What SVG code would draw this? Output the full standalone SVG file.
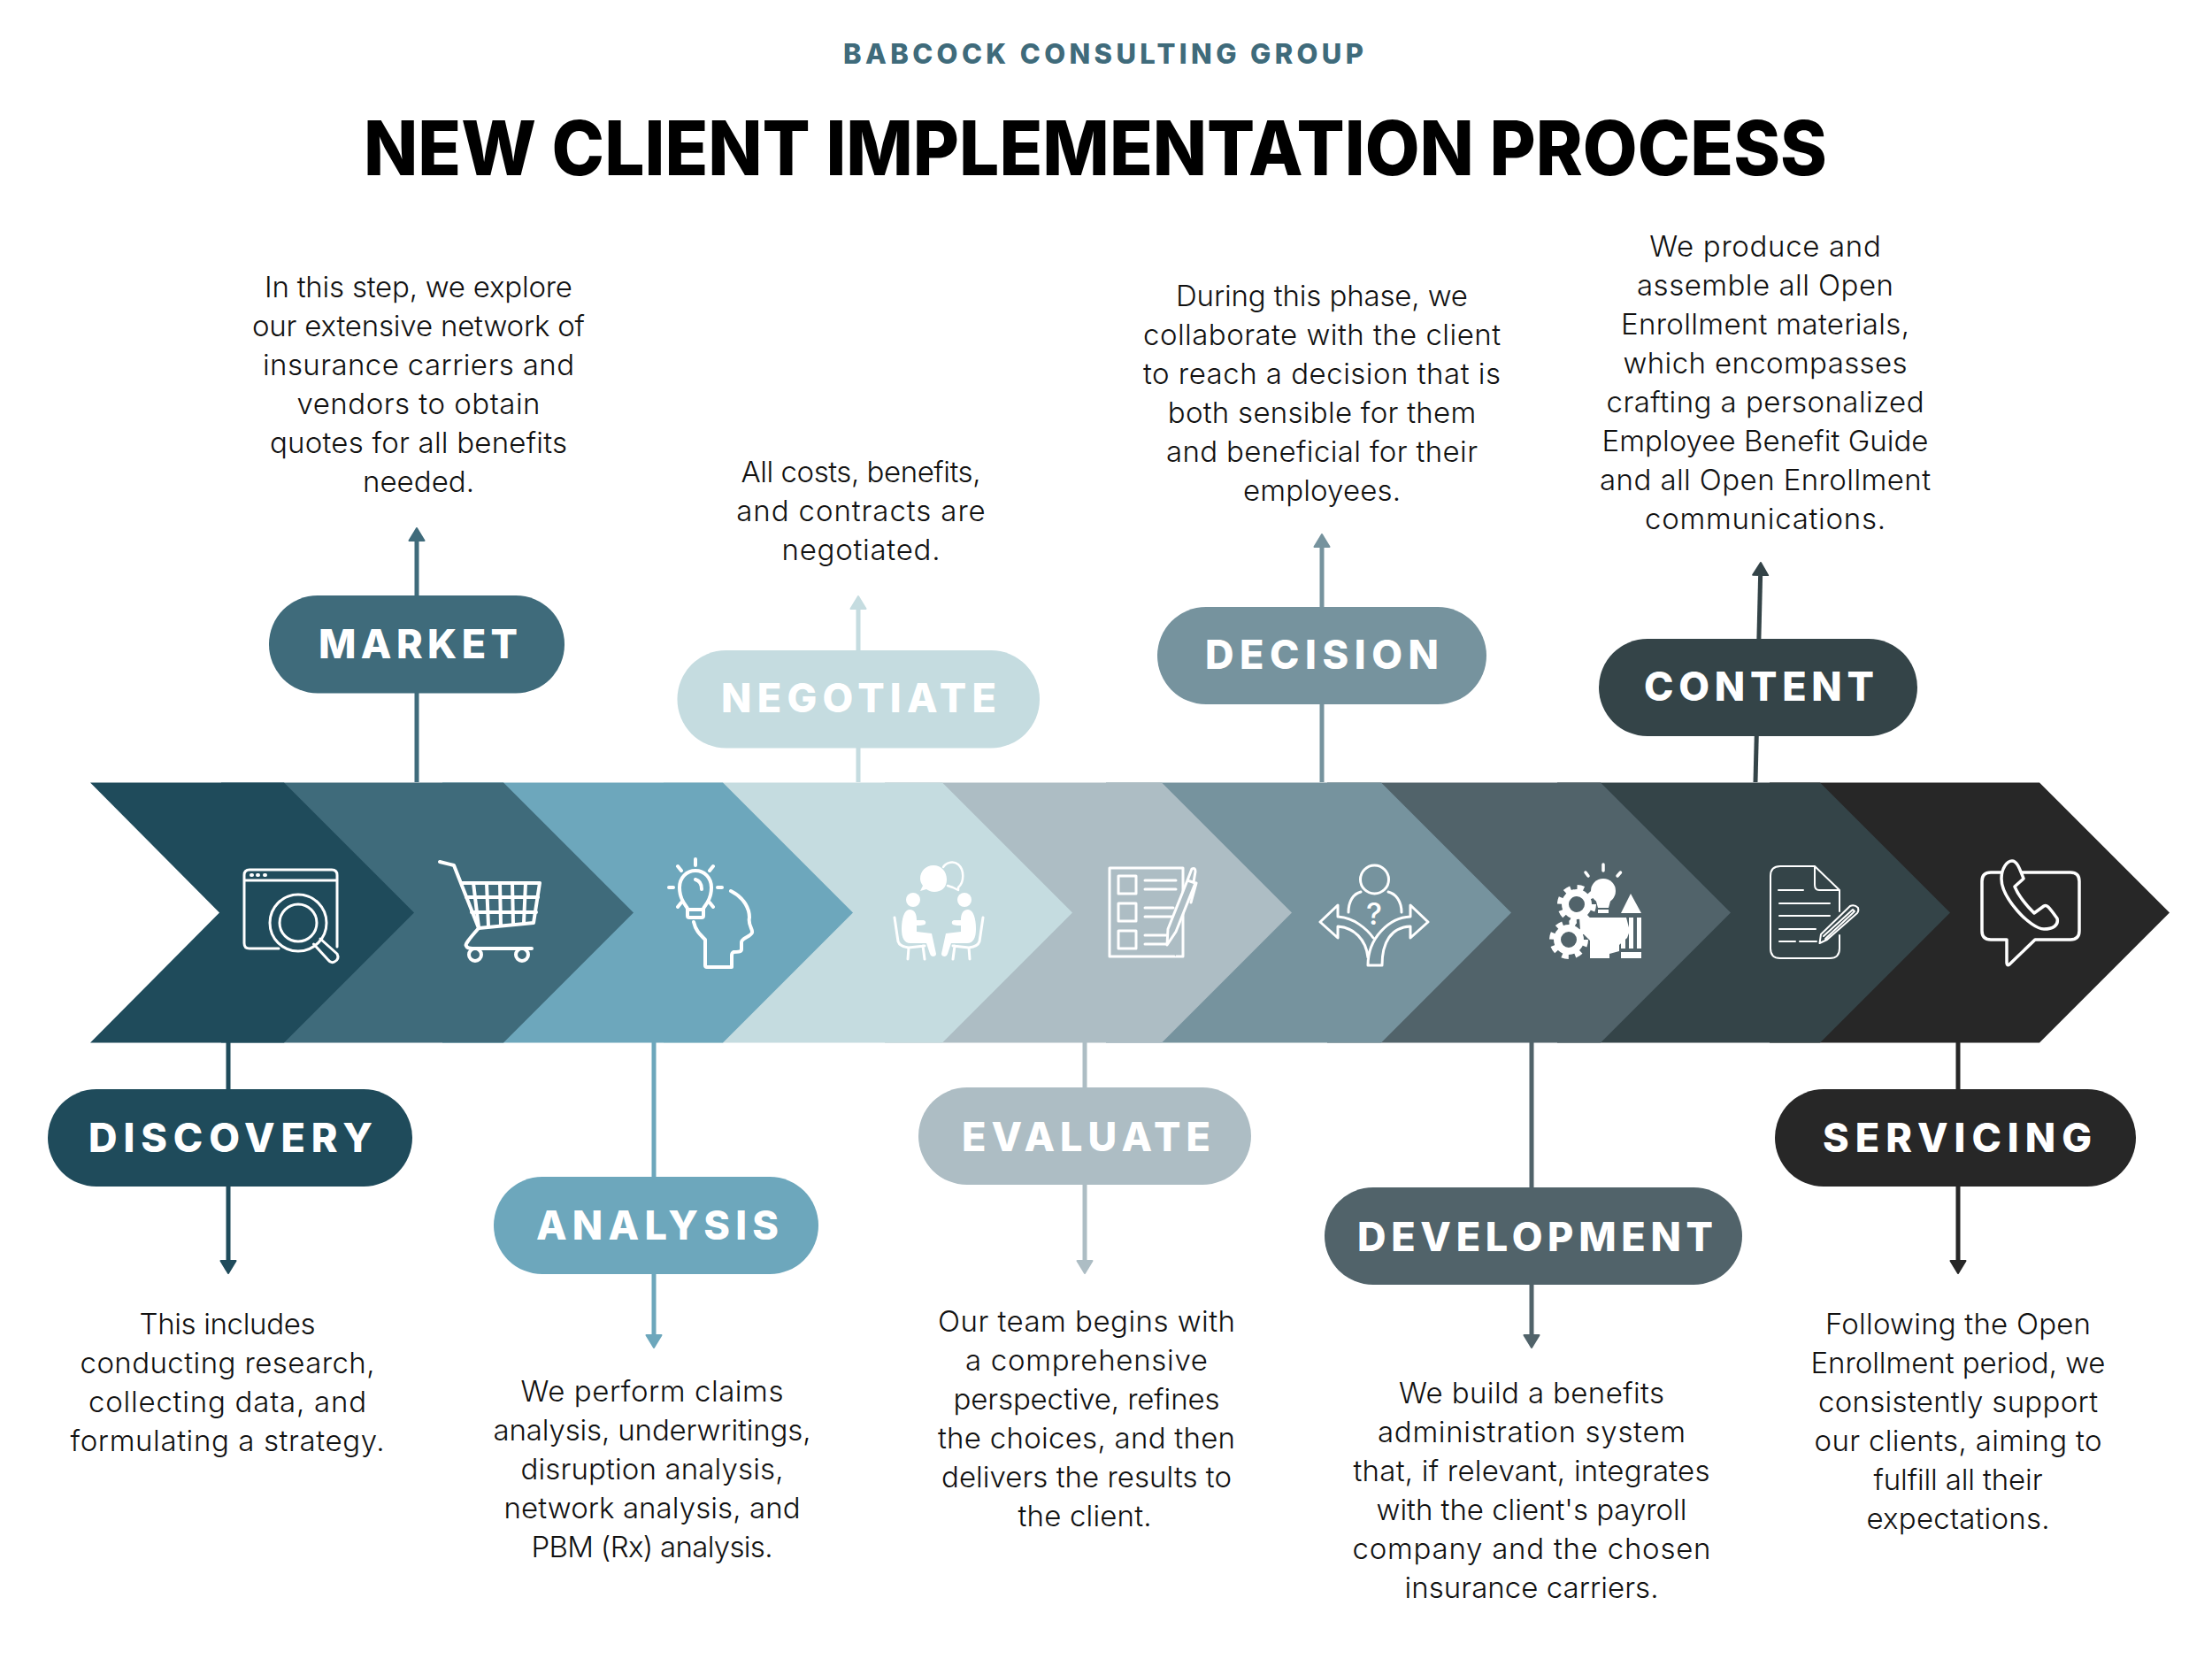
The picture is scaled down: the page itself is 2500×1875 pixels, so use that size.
<svg xmlns="http://www.w3.org/2000/svg" width="2500" height="1875" viewBox="0 0 2500 1875">
<style>
text{font-family:"Inter","Liberation Sans",sans-serif}
.b text,text.b{font-size:33px;font-weight:300;fill:#111;text-anchor:middle}
.l{font-size:45px;font-weight:800;fill:#fff}
.i{fill:none;stroke:#fff;stroke-linecap:round;stroke-linejoin:round}
.f{fill:#fff;stroke:none}
.c{fill:none;stroke-width:5}
</style>
<defs>
<marker id="ah" viewBox="0 0 16 20" refX="0" refY="10" markerWidth="16" markerHeight="20" markerUnits="userSpaceOnUse" orient="auto"><path d="M1 1.500L15 10L1 18.500Z" fill="context-stroke" stroke="context-stroke" stroke-width="2" stroke-linejoin="round"/></marker>
</defs>
<rect width="2500" height="1875" fill="#fff"/>
<text x="953" y="72" font-size="31" font-weight="800" fill="#3f6b7b" textLength="588" lengthAdjust="spacing">BABCOCK CONSULTING GROUP</text>
<text x="411" y="198" font-size="85" font-weight="800" fill="#000" textLength="1654" lengthAdjust="spacingAndGlyphs">NEW CLIENT IMPLEMENTATION PROCESS</text>

<g id="chevrons">
<polygon points="2000,884.500 2305,884.500 2452,1031.500 2305,1178.500 2000,1178.500" fill="#272727"/>
<polygon points="1760,884.500 2057,884.500 2204,1031.500 2057,1178.500 1760,1178.500" fill="#344448"/>
<polygon points="1500,884.500 1809,884.500 1956,1031.500 1809,1178.500 1500,1178.500" fill="#51636a"/>
<polygon points="1250,884.500 1561,884.500 1708,1031.500 1561,1178.500 1250,1178.500" fill="#76939e"/>
<polygon points="1000,884.500 1313,884.500 1460,1031.500 1313,1178.500 1000,1178.500" fill="#adbdc4"/>
<polygon points="750,884.500 1065,884.500 1212,1031.500 1065,1178.500 750,1178.500" fill="#c5dce0"/>
<polygon points="500,884.500 817,884.500 964,1031.500 817,1178.500 500,1178.500" fill="#6da7bc"/>
<polygon points="250,884.500 569,884.500 716,1031.500 569,1178.500 250,1178.500" fill="#3f6b7b"/>
<polygon points="102,884.500 321,884.500 468,1031.500 321,1178.500 102,1178.500 248,1031.500" fill="#1f4b5b"/>
</g>

<g id="connectors">
<line class="c" x1="471" y1="884" x2="471" y2="612" stroke="#3f6b7b" marker-end="url(#ah)"/>
<line class="c" x1="970" y1="884" x2="970" y2="689" stroke="#c5dce0" marker-end="url(#ah)"/>
<line class="c" x1="1494" y1="884" x2="1494" y2="619" stroke="#76939e" marker-end="url(#ah)"/>
<line class="c" x1="1984" y1="884" x2="1989.600" y2="651" stroke="#344448" marker-end="url(#ah)"/>
<line class="c" x1="258" y1="1178" x2="258" y2="1424" stroke="#1f4b5b" marker-end="url(#ah)"/>
<line class="c" x1="739" y1="1178" x2="739" y2="1508" stroke="#6da7bc" marker-end="url(#ah)"/>
<line class="c" x1="1226" y1="1178" x2="1226" y2="1424" stroke="#adbdc4" marker-end="url(#ah)"/>
<line class="c" x1="1731" y1="1178" x2="1731" y2="1508" stroke="#51636a" marker-end="url(#ah)"/>
<line class="c" x1="2213" y1="1178" x2="2213" y2="1424" stroke="#272727" marker-end="url(#ah)"/>
</g>

<g id="node-discovery">
<rect x="54" y="1231" width="412" height="110" rx="55" fill="#1f4b5b"/>
<text class="l" x="100" y="1302" textLength="321" lengthAdjust="spacing">DISCOVERY</text>
<g class="b">
<text x="257" y="1507.500" textLength="199">This includes</text>
<text x="257" y="1551.500" textLength="333">conducting research,</text>
<text x="257" y="1595.500" textLength="314">collecting data, and</text>
<text x="257" y="1639.500" textLength="355">formulating a strategy.</text>
</g>
<g class="i" stroke-width="3">
<path d="M381 1070V989Q381 983 375 983H282Q276 983 276 989V1066Q276 1072 282 1072H315M276 995H381"/>
<path d="M284 989h1M291 989h1M299 989h1" stroke-width="4"/>
<circle cx="337" cy="1043" r="32"/><circle cx="337" cy="1043" r="21"/>
<path d="M362 1061L381 1078Q384 1084 378 1087Q374 1089 371 1085L354.500 1067"/>
</g>
</g>

<g id="node-market">
<rect x="304" y="673" width="334" height="110.500" rx="55" fill="#3f6b7b"/>
<text class="l" x="360" y="744" textLength="225" lengthAdjust="spacing">MARKET</text>
<g class="b">
<text x="473" y="336" textLength="348">In this step, we explore</text>
<text x="473" y="380" textLength="376">our extensive network of</text>
<text x="473" y="424" textLength="352">insurance carriers and</text>
<text x="473" y="468" textLength="275">vendors to obtain</text>
<text x="473" y="512" textLength="336">quotes for all benefits</text>
<text x="473" y="556" textLength="126">needed.</text>
</g>
<g class="i" stroke-width="4">
<path d="M497 974L513 978L541 1049L603 1043L610 998H521"/>
<path d="M527 1014H608M533 1031H606M535 998L541 1048M550 998L552 1047M565 998L566 1046M579 998L580 1044M594 998L592 1043"/>
<path d="M541 1049Q524 1068 527 1069Q528 1072 534 1072H601"/>
<ellipse cx="537" cy="1079" rx="7" ry="7"/><ellipse cx="590" cy="1079" rx="7" ry="7"/>
</g>
</g>

<g id="node-analysis">
<rect x="558" y="1330" width="367" height="110" rx="55" fill="#6da7bc"/>
<text class="l" x="606" y="1401" textLength="274" lengthAdjust="spacing">ANALYSIS</text>
<g class="b">
<text x="737" y="1583.500" textLength="297">We perform claims</text>
<text x="737" y="1627.500" textLength="359">analysis, underwritings,</text>
<text x="737" y="1671.500" textLength="297">disruption analysis,</text>
<text x="737" y="1715.500" textLength="335">network analysis, and</text>
<text x="737" y="1759.500" textLength="273">PBM (Rx) analysis.</text>
</g>
<g class="i" stroke-width="4">
<path d="M786 971V978M766 979L770 984M806 979L802 984M756 1003H761M811 1003H816M766 1025L770 1020M806 1025L802 1020"/>
<path d="M777 1035V1027C776 1023 768 1019 768 1003C768 992 776 984 786 984C796 984 804 992 804 1003C804 1019 796 1023 795 1027V1035Q795 1037 793 1037H779Q777 1037 777 1035ZM777 1028H795M786 994Q793 996 793 1005"/>
<path d="M826 1007C842 1015 847 1028 847 1037C845 1045 851 1050 850 1054C848 1059 838 1060 838 1065V1073C838 1076 833 1076 829 1076Q827 1077 827 1080V1093H799Q797 1093 797 1091V1062C790 1055 786 1051 784 1042"/>
</g>
</g>

<g id="node-negotiate">
<rect x="765.500" y="735" width="409.500" height="110.500" rx="55" fill="#c5dce0"/>
<text class="l" x="815" y="805" textLength="311" lengthAdjust="spacing">NEGOTIATE</text>
<g class="b">
<text x="973" y="545" textLength="271">All costs, benefits,</text>
<text x="973" y="589" textLength="281.500">and contracts are</text>
<text x="973" y="633" textLength="179">negotiated.</text>
</g>
<g>
<path class="f" d="M1055 978C1064 978 1070 985 1070 994C1070 1003 1064 1008 1056 1008C1052 1008 1049 1006 1047 1005L1040 1007L1043 1001C1041 998 1040 996 1040 993C1040 985 1046 978 1055 978Z"/>
<path class="i" stroke-width="2.500" d="M1066 980C1070 974 1078 973 1083 977C1090 983 1090 997 1083 1003L1083 1006L1077 1003L1071 1001"/>
<ellipse class="f" cx="1032" cy="1017" rx="8" ry="8"/><ellipse class="f" cx="1090" cy="1017" rx="8" ry="8"/>
<path class="f" d="M1028 1028C1034 1028 1036 1033 1036 1040H1044Q1047 1041 1046 1044Q1045 1046 1036 1046V1053L1053 1055L1058 1078Q1058 1081 1054 1081Q1052 1081 1051 1078L1047 1066H1029C1022 1066 1019 1060 1019 1050C1019 1038 1022 1028 1028 1028Z"/>
<path class="f" d="M1094 1028C1088 1028 1086 1033 1086 1040H1078Q1075 1041 1076 1044Q1077 1046 1086 1046V1053L1069 1055L1064 1078Q1064 1081 1068 1081Q1070 1081 1071 1078L1075 1066H1093C1100 1066 1103 1060 1103 1050C1103 1038 1100 1028 1094 1028Z"/>
<path class="i" stroke-width="3" d="M1011 1037L1015 1064Q1017 1070 1027 1071L1045 1069M1027 1071L1026 1084M1043 1069L1045 1084M1111 1037L1107 1064Q1105 1070 1095 1071L1077 1069M1095 1071L1096 1084M1079 1069L1077 1084"/>
</g>
</g>

<g id="node-evaluate">
<rect x="1038" y="1229" width="376" height="110" rx="55" fill="#adbdc4"/>
<text class="l" x="1087" y="1301" textLength="281" lengthAdjust="spacing">EVALUATE</text>
<g class="b">
<text x="1228" y="1504.500" textLength="336">Our team begins with</text>
<text x="1228" y="1548.500" textLength="274">a comprehensive</text>
<text x="1228" y="1592.500" textLength="301">perspective, refines</text>
<text x="1228" y="1636.500" textLength="336">the choices, and then</text>
<text x="1228" y="1680.500" textLength="328">delivers the results to</text>
<text x="1226" y="1724.500" textLength="151">the client.</text>
</g>
<g class="i" stroke-width="3">
<rect x="1254" y="981" width="83" height="100"/>
<rect x="1264" y="990" width="20" height="20"/><rect x="1264" y="1021" width="20" height="20"/><rect x="1264" y="1052" width="20" height="20"/>
<path d="M1294 995H1329M1294 1005H1329M1294 1026H1326M1294 1036H1326M1294 1057H1319M1294 1067H1319"/>
<path fill="#adbdc4" stroke="none" d="M1342 995L1351 998L1329 1053L1329 1081L1319 1068L1320 1050Z"/>
<path d="M1342 995L1351 998L1329 1053L1319 1068L1320 1050ZM1342 995L1347 982Q1351 980 1351 985L1349 997M1352 998L1346 1020"/>
</g>
</g>

<g id="node-decision">
<rect x="1308" y="686" width="372" height="110" rx="55" fill="#76939e"/>
<text class="l" x="1362" y="756" textLength="264" lengthAdjust="spacing">DECISION</text>
<g class="b">
<text x="1494" y="346" textLength="330">During this phase, we</text>
<text x="1494" y="390" textLength="404">collaborate with the client</text>
<text x="1494" y="434" textLength="404">to reach a decision that is</text>
<text x="1494" y="478" textLength="348.500">both sensible for them</text>
<text x="1494" y="522" textLength="352">and beneficial for their</text>
<text x="1494" y="566" textLength="178">employees.</text>
</g>
<g class="i" stroke-width="3">
<circle cx="1553.500" cy="994" r="16"/>
<path d="M1524 1031C1524 1018 1530 1010 1538 1008M1584 1031C1584 1018 1577 1010 1569 1008"/>
<path d="M1512 1036V1023L1492 1042L1512 1060V1047C1530 1048 1544 1062 1546 1082M1512 1036C1530 1037 1545 1050 1552 1060M1594 1036V1023L1614 1042L1594 1060V1047C1572 1048 1562 1065 1562 1091H1546C1546 1060 1570 1037 1594 1036Z"/>
</g>
<text x="1553" y="1045" font-size="34" font-weight="500" fill="#fff" text-anchor="middle">?</text>
</g>

<g id="node-development">
<rect x="1497" y="1342" width="472" height="110" rx="55" fill="#51636a"/>
<text class="l" x="1534" y="1414" textLength="402" lengthAdjust="spacing">DEVELOPMENT</text>
<g class="b">
<text x="1731" y="1585.500" textLength="300">We build a benefits</text>
<text x="1731" y="1629.500" textLength="348">administration system</text>
<text x="1731" y="1673.500" textLength="403">that, if relevant, integrates</text>
<text x="1731" y="1717.500" textLength="351">with the client's payroll</text>
<text x="1731" y="1761.500" textLength="405">company and the chosen</text>
<text x="1731" y="1805.500" textLength="287">insurance carriers.</text>
</g>
<g>
<circle cx="1782" cy="1022" r="13" fill="none" stroke="#fff" stroke-width="8"/>
<circle cx="1782" cy="1022" r="19" fill="none" stroke="#fff" stroke-width="6" stroke-dasharray="7.460 7.460"/>
<circle cx="1773" cy="1062" r="13" fill="none" stroke="#fff" stroke-width="8"/>
<circle cx="1773" cy="1062" r="19" fill="none" stroke="#fff" stroke-width="6" stroke-dasharray="7.460 7.460"/>
<circle class="f" cx="1812" cy="1007" r="14"/>
<path class="f" d="M1803 1015H1821L1818 1026H1806ZM1806 1028H1818V1032H1806Z"/>
<path class="i" stroke-width="3.500" d="M1812 977V984M1792 986L1795 990M1831.500 986L1828 990"/>
<path class="i" stroke="#51636a" stroke-width="1.500" d="M1815 996Q1820 999 1820 1005"/>
<path class="f" d="M1785 1037H1838L1842 1052L1839 1060L1830 1068L1830 1075L1819 1078V1083H1797V1063L1786 1052Z"/>
<path class="f" d="M1843 1010L1855 1032H1832ZM1832 1037H1837V1072H1832ZM1841 1037H1846V1072H1841ZM1850 1037H1855V1072H1850ZM1832 1076H1855V1083H1832Z"/>
</g>
</g>

<g id="node-content">
<rect x="1807" y="722" width="360" height="110" rx="55" fill="#344448"/>
<text class="l" x="1858" y="792" textLength="260" lengthAdjust="spacing">CONTENT</text>
<g class="b">
<text x="1995" y="290" textLength="261.500">We produce and</text>
<text x="1995" y="334" textLength="290">assemble all Open</text>
<text x="1995" y="378" textLength="326">Enrollment materials,</text>
<text x="1995" y="422" textLength="321">which encompasses</text>
<text x="1995" y="466" textLength="359">crafting a personalized</text>
<text x="1995" y="510" textLength="369">Employee Benefit Guide</text>
<text x="1995" y="554" textLength="374">and all Open Enrollment</text>
<text x="1995" y="598" textLength="272">communications.</text>
</g>
<g class="i" stroke-width="2">
<path d="M2051 979H2012Q2001 979 2001 990V1072Q2001 1083 2012 1083H2068Q2079 1083 2079 1072V1057M2079 1030V1006L2051 979V1000Q2051 1006 2056 1006H2079"/>
<path d="M2010 1006H2038M2011 1021H2068M2011 1035H2068M2011 1050H2052M2011 1064H2029M2034 1064H2053"/>
<path d="M2056.500 1066L2058 1056L2091 1024Q2096 1022 2100 1026Q2101 1030 2099 1032L2065 1062ZM2061 1058L2094 1028L2096 1030L2063 1061"/>
</g>
</g>

<g id="node-servicing">
<rect x="2006" y="1231" width="408" height="110" rx="55" fill="#272727"/>
<text class="l" x="2060" y="1302" textLength="304" lengthAdjust="spacing">SERVICING</text>
<g class="b">
<text x="2213" y="1507.500" textLength="300">Following the Open</text>
<text x="2213" y="1551.500" textLength="333">Enrollment period, we</text>
<text x="2213" y="1595.500" textLength="316">consistently support</text>
<text x="2213" y="1639.500" textLength="325">our clients, aiming to</text>
<text x="2213" y="1683.500" textLength="191">fulfill all their</text>
<text x="2213" y="1727.500" textLength="207">expectations.</text>
</g>
<g class="i" stroke-width="3.500">
<path d="M2250 986H2340Q2350 986 2350 996V1052Q2350 1062 2340 1062H2300L2271 1090Q2268 1092 2268 1088V1062H2250Q2240 1062 2240 1052V996Q2240 986 2250 986Z"/>
<path fill="#272727" d="M2262 993C2262 982 2268 973 2274 973C2280 973 2283 983 2287 993L2277 1002C2281 1012 2290 1023 2299 1032L2310 1024C2313 1022 2315 1024 2325 1038C2327 1046 2320 1050 2310 1050C2295 1050 2262 1015 2262 993Z"/>
</g>
</g>
</svg>
